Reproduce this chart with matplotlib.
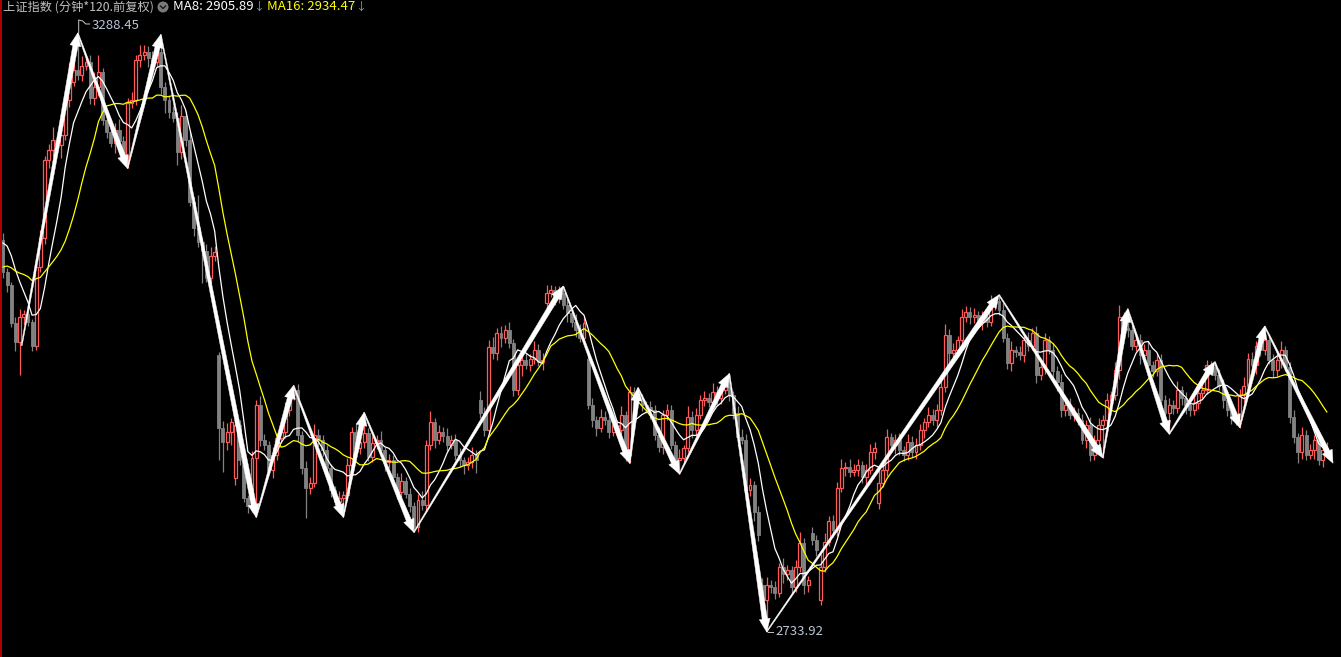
import numpy as np
import pandas as pd
import matplotlib
matplotlib.use('Agg')
import matplotlib.pyplot as plt
from matplotlib.patches import Polygon, Circle
from matplotlib.lines import Line2D
from matplotlib.transforms import IdentityTransform

plt.rcParams['font.family'] = ['Noto Sans CJK SC', 'DejaVu Sans']

# closes of the 15 bars before the visible window (needed for the MAs)
prior_closes = [3041, 3046, 3050, 3055, 3049, 3052, 3058, 3045,
                3078, 3092, 3106, 3111, 3104, 3097, 3097]

# 120-minute closes
closes = [
    3067, 3055, 3020, 3002, 3025, 3028, 3021, 2999, 3072, 3099, 3171, 3180, 3189, 3185, 3194, 3226, 3243, 3254, 3250, 3258,
    3262, 3228, 3238, 3252, 3208, 3197, 3187, 3199, 3188, 3175, 3224, 3226, 3263, 3268, 3271, 3265, 3262, 3271, 3238, 3226,
    3215, 3210, 3178, 3212, 3189, 3132, 3108, 3095, 3087, 3062, 3082, 3086, 2923, 2910, 2919, 2928, 2925, 2893, 2858, 2850,
    2895, 2944, 2912, 2907, 2884, 2898, 2913, 2919, 2939, 2953, 2958, 2916, 2886, 2867, 2872, 2916, 2912, 2902, 2886, 2865,
    2854, 2858, 2861, 2888, 2919, 2904, 2910, 2918, 2896, 2909, 2912, 2902, 2891, 2893, 2877, 2863, 2874, 2862, 2850, 2831,
    2856, 2851, 2907, 2928, 2912, 2919, 2915, 2907, 2912, 2898, 2893, 2888, 2891, 2898, 2893, 2937, 2921, 2998, 2992, 3011,
    3006, 3013, 3001, 2958, 2981, 2986, 2981, 2987, 2995, 2984, 2986, 3048, 3050, 3043, 3048, 3037, 3029, 3021, 3013, 3006,
    3020, 2944, 2930, 2923, 2933, 2930, 2919, 2925, 2921, 2935, 2898, 2956, 2953, 2949, 2944, 2942, 2939, 2916, 2905, 2935,
    2939, 2907, 2893, 2895, 2904, 2933, 2921, 2935, 2949, 2950, 2947, 2956, 2950, 2958, 2961, 2953, 2937, 2914, 2912, 2865,
    2870, 2845, 2824, 2763, 2777, 2775, 2770, 2794, 2787, 2791, 2775, 2794, 2816, 2777, 2782, 2819, 2810, 2794, 2817, 2837,
    2828, 2867, 2886, 2887, 2882, 2884, 2888, 2877, 2884, 2900, 2904, 2872, 2884, 2914, 2907, 2912, 2902, 2898, 2910, 2900,
    2907, 2921, 2928, 2935, 2930, 2939, 2961, 3009, 2992, 2995, 3004, 3025, 3030, 3025, 3027, 3021, 3025, 3021, 3038, 3040,
    3032, 3006, 2983, 2995, 2993, 2990, 3004, 2999, 3011, 2972, 2979, 3004, 2995, 2975, 2965, 2939, 2944, 2935, 2937, 2930,
    2912, 2925, 2898, 2912, 2925, 2930, 2949, 2953, 2976, 3025, 3015, 3013, 2999, 3004, 2990, 2995, 2981, 2975, 2986, 2949,
    2937, 2944, 2941, 2958, 2950, 2944, 2939, 2946, 2955, 2958, 2981, 2979, 2972, 2962, 2949, 2939, 2932, 2930, 2953, 2962,
    2987, 2981, 2999, 2995, 3004, 2986, 2976, 2986, 2995, 2979, 2933, 2914, 2900, 2916, 2898, 2902, 2912, 2893, 2902, 2904,
]

# opening gaps (bar index -> open); other bars open at the previous close
gap_opens = {52: 2990, 56: 2876, 115: 2949, 131: 3038, 141: 2987,
             183: 2777, 195: 2825, 197: 2763, 211: 2853}

# upper / lower shadow lengths in index points
wick_up = [
    6, 4, 3, 5, 8, 4, 6, 3, 5, 7, 4, 6, 12, 5, 10, 6, 18, 8, 0, 9,
    5, 6, 14, 16, 4, 5, 8, 6, 10, 5, 4, 8, 5, 9, 6, 5, 7, 6, 0, 5,
    4, 6, 5, 10, 4, 8, 5, 30, 4, 6, 8, 5, 3, 6, 8, 4, 12, 5, 4, 3,
    6, 5, 8, 5, 4, 7, 5, 6, 8, 4, 0, 5, 4, 6, 5, 10, 6, 4, 5, 3,
    4, 6, 3, 7, 5, 8, 4, 0, 5, 6, 4, 8, 3, 6, 5, 4, 7, 3, 5, 4,
    6, 8, 5, 10, 4, 6, 5, 8, 4, 5, 6, 3, 5, 7, 4, 8, 5, 6, 9, 4,
    6, 5, 8, 4, 7, 5, 6, 4, 8, 5, 6, 7, 5, 4, 6, 0, 5, 4, 7, 6,
    5, 8, 6, 4, 7, 5, 6, 4, 5, 8, 3, 6, 5, 0, 5, 4, 6, 5, 8, 4,
    6, 5, 4, 8, 3, 10, 5, 6, 4, 7, 5, 8, 6, 4, 5, 0, 4, 6, 8, 5,
    6, 4, 5, 7, 8, 5, 6, 4, 8, 5, 4, 6, 10, 5, 4, 6, 5, 12, 8, 4,
    5, 6, 8, 4, 7, 5, 6, 4, 5, 8, 6, 12, 5, 8, 4, 5, 6, 4, 7, 5,
    6, 5, 4, 7, 5, 6, 8, 10, 5, 6, 4, 8, 6, 5, 7, 4, 6, 5, 8, 4,
    0, 6, 5, 8, 4, 6, 5, 8, 4, 6, 5, 7, 4, 6, 5, 8, 4, 6, 5, 4,
    6, 5, 8, 4, 7, 5, 6, 4, 8, 12, 5, 0, 5, 4, 6, 5, 8, 4, 6, 5,
    4, 6, 5, 8, 4, 6, 5, 7, 4, 6, 5, 4, 0, 5, 6, 4, 7, 5, 6, 8,
    5, 6, 4, 8, 0, 6, 5, 7, 8, 4, 5, 6, 4, 8, 5, 6, 4, 7, 5, 6,
]
wick_dn = [
    5, 6, 4, 8, 30, 6, 4, 5, 4, 5, 6, 8, 5, 4, 12, 5, 6, 4, 5, 6,
    4, 5, 6, 8, 5, 6, 4, 10, 5, 6, 0, 5, 4, 6, 5, 8, 4, 5, 6, 12,
    5, 4, 12, 6, 5, 4, 8, 5, 30, 4, 6, 5, 30, 28, 8, 12, 6, 5, 4, 6,
    5, 0, 6, 5, 4, 8, 5, 4, 6, 5, 4, 5, 6, 28, 5, 4, 6, 5, 4, 6,
    5, 4, 6, 5, 8, 4, 5, 6, 4, 5, 6, 4, 8, 5, 4, 6, 5, 4, 5, 0,
    5, 4, 6, 5, 8, 4, 5, 6, 4, 5, 6, 8, 4, 5, 12, 5, 6, 4, 5, 6,
    8, 5, 4, 6, 5, 10, 4, 6, 5, 4, 8, 5, 4, 6, 5, 4, 8, 5, 6, 4,
    5, 4, 6, 8, 4, 5, 6, 4, 5, 8, 6, 0, 5, 4, 6, 5, 8, 4, 5, 6,
    5, 4, 6, 0, 5, 4, 8, 5, 4, 6, 5, 4, 6, 5, 4, 5, 6, 8, 4, 6,
    5, 8, 6, 12, 0, 5, 6, 4, 8, 5, 6, 4, 5, 8, 6, 5, 6, 0, 5, 4,
    6, 5, 4, 8, 5, 4, 6, 5, 8, 4, 6, 5, 4, 6, 5, 8, 4, 6, 5, 4,
    6, 5, 8, 4, 5, 6, 4, 5, 8, 4, 6, 5, 4, 6, 5, 4, 8, 5, 4, 6,
    5, 4, 6, 8, 5, 4, 6, 5, 4, 8, 5, 6, 4, 5, 8, 6, 5, 4, 6, 5,
    4, 8, 6, 5, 4, 0, 6, 5, 4, 8, 5, 6, 4, 5, 8, 4, 6, 5, 4, 8,
    6, 0, 5, 4, 6, 8, 5, 4, 6, 5, 4, 6, 5, 4, 8, 5, 6, 5, 0, 6,
    5, 4, 8, 6, 5, 4, 6, 5, 8, 4, 6, 5, 10, 6, 5, 4, 8, 5, 6, 5,
]

# swing highs / lows that the zigzag connects
fixed_highs = {18: 3288.45, 38: 3287, 70: 2962, 87: 2937, 135: 3054, 153: 2960,
               175: 2973, 240: 3046, 271: 3033, 292: 2984, 304: 3017}
fixed_lows = {30: 3163, 61: 2840, 82: 2840, 99: 2826, 151: 2890, 163: 2880,
              184: 2733.92, 197: 2759, 265: 2895, 281: 2917, 298: 2923}

zz_idx = [4.5, 18, 30, 38, 61, 70, 82, 87, 99, 135, 151, 153, 163, 175, 184,
          240, 265, 271, 281, 292, 298, 304, 320.5]
zz_val = [2999, 3288.45, 3163, 3287, 2840, 2962, 2840, 2937, 2826, 3054, 2890, 2960,
          2880, 2973, 2733.92, 3046, 2895, 3033, 2917, 2984, 2923, 3017, 2890]

title = '上证指数 (分钟*120.前复权)'
ma8_label = 'MA8: 2905.89'
ma16_label = 'MA16: 2934.47'

assert len(closes) == len(wick_up) == len(wick_dn) == 320

# ---- build OHLC ----
c = np.array(closes, dtype=float)
o = np.r_[prior_closes[-1], c[:-1]]
for k, v in gap_opens.items():
    o[k] = v
hi = np.maximum(o, c) + np.array(wick_up)
lo = np.minimum(o, c) - np.array(wick_dn)
for k, v in fixed_highs.items():
    hi[k] = v
for k, v in fixed_lows.items():
    lo[k] = v

allc = pd.Series(prior_closes + closes, dtype=float)
n0 = len(prior_closes)
ma8 = allc.rolling(8).mean().to_numpy()[n0:]
ma16 = allc.rolling(16).mean().to_numpy()[n0:]

# ---- figure ----
W, H = 1341, 657
fig = plt.figure(figsize=(W / 100, H / 100), dpi=100, facecolor='black')
ax = fig.add_axes([0, 0, 1, 1])
ax.set_facecolor('black')
step, x_first = 4.15, 3.0
ax.set_xlim(-x_first / step, (W - x_first) / step)
ax.set_ylim(2710.6, 3319.0)
ax.axis('off')

RED = '#ff5a5a'
GRAY = '#828282'
x = np.arange(len(c))
up = c >= o
cols = np.where(up, RED, GRAY)

ax.vlines(x, lo, hi, colors=cols, linewidth=0.9, zorder=1)
body_h = np.maximum(np.abs(c - o), 0.6)
ax.bar(x[up], body_h[up], bottom=np.minimum(o, c)[up], width=0.7,
       facecolor='black', edgecolor=RED, linewidth=0.9, zorder=2)
ax.bar(x[~up], body_h[~up], bottom=np.minimum(o, c)[~up], width=0.7,
       facecolor=GRAY, edgecolor=GRAY, linewidth=0.6, zorder=2)

ax.plot(x, ma8, color='white', lw=0.9, zorder=3)
ax.plot(x, ma16, color='#ffff00', lw=0.9, zorder=3)

# tapered zigzag arrows, built in pixel space
to_px = ax.transData
to_data = ax.transData.inverted()
pts = to_px.transform(np.column_stack([zz_idx, zz_val]))
for p0, p1 in zip(pts[:-1], pts[1:]):
    d = p1 - p0
    u = d / np.hypot(*d)
    nrm = np.array([-u[1], u[0]])
    head_len, head_w, tail_w, neck_w = 13, 5.5, 0.5, 2.6
    b = p1 - u * head_len
    poly = [p0 + nrm * tail_w, b + nrm * neck_w, b + nrm * head_w, p1,
            b - nrm * head_w, b - nrm * neck_w, p0 - nrm * tail_w]
    ax.add_patch(Polygon(to_data.transform(np.array(poly)), closed=True,
                         facecolor='white', edgecolor='white', lw=0.3, zorder=5))

# extreme value labels
LAB = '#bcc6d6'
hx, hy = to_px.transform((18, 3288.45))
fig.add_artist(Line2D([hx + 1, hx + 1, hx + 5, hx + 8, hx + 12],
                      [hy, hy + 13, hy + 12, hy + 9, hy + 9],
                      transform=IdentityTransform(), color='#c8c8c8', lw=0.7))
fig.text((hx + 14) / W, (hy + 7) / H, '3288.45', color=LAB, fontsize=9.5,
         va='center', ha='left')
lx, ly = to_px.transform((184, 2733.92))
fig.add_artist(Line2D([lx + 1, lx + 6], [ly, ly], transform=IdentityTransform(),
                      color='#c8c8c8', lw=0.7))
fig.text((lx + 9) / W, ly / H, '2733.92', color=LAB, fontsize=9.5,
         va='center', ha='left')

# header line
ty = 1 - 7 / H
fig.text(3 / W, ty, title, color='#c0c0c0', fontsize=8.8, va='center', ha='left')
fig.add_artist(Circle((163, H - 7), 5.5, transform=IdentityTransform(),
                      facecolor='#7a7a7a', edgecolor='none'))
fig.add_artist(Line2D([160.5, 163, 165.5], [H - 6, H - 8.5, H - 6],
                      transform=IdentityTransform(), color='#1a1a1a', lw=1.0))
fig.text(173 / W, ty, ma8_label, color='white', fontsize=9.5, va='center', ha='left')
fig.text(253 / W, ty, '↓', color='#9a9a9a', fontsize=8, va='center', ha='left')
fig.text(267 / W, ty, ma16_label, color='#ffff00', fontsize=9.5, va='center', ha='left')
fig.text(355 / W, ty, '↓', color='#9a9a9a', fontsize=8, va='center', ha='left')

# red frame line on the left edge
fig.add_artist(Line2D([0.7, 0.7], [0, H], transform=IdentityTransform(),
                      color='#d00000', lw=1.2))

fig.savefig('out.png', dpi=100, facecolor='black')
